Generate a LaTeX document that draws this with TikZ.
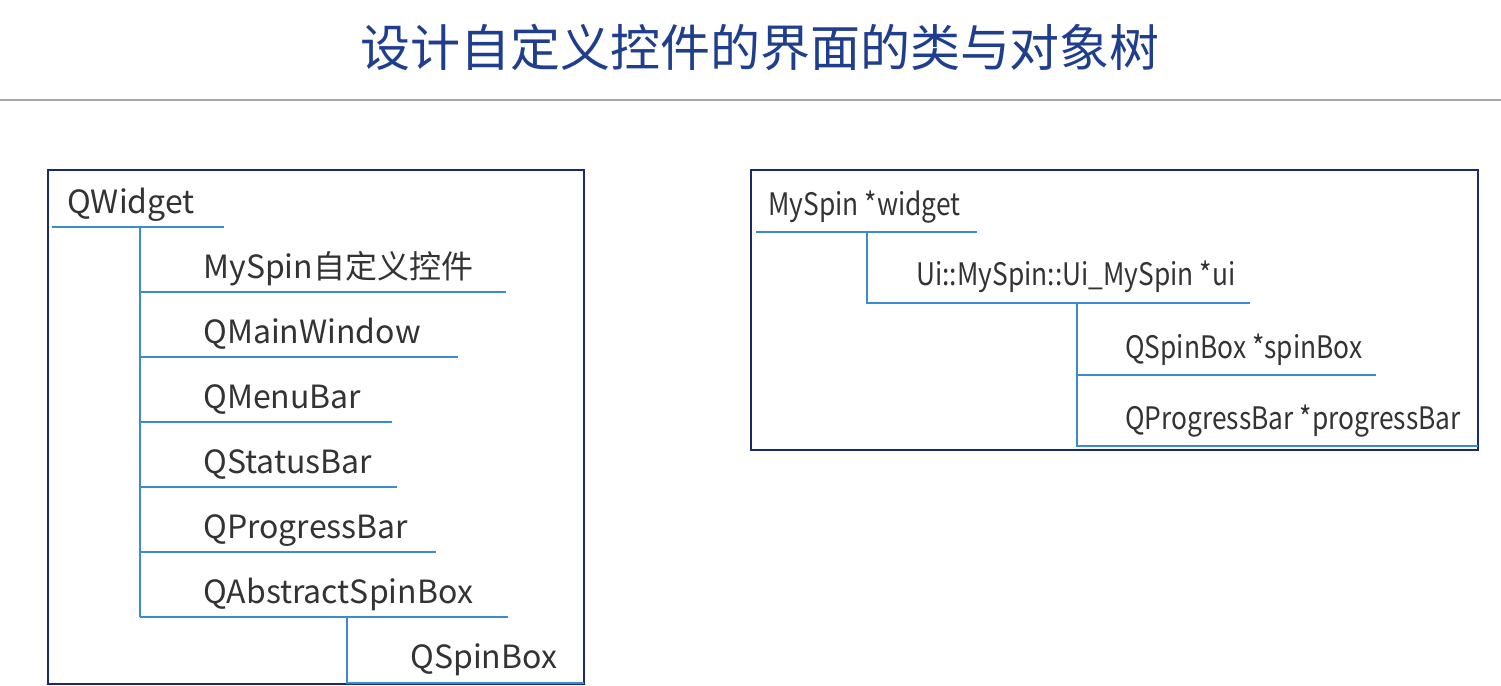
\documentclass[tikz,border=0pt]{standalone}
\usepackage{fontspec}
\setmainfont{Noto Sans CJK SC}
\definecolor{titleblue}{HTML}{1F3E8E}
\definecolor{navy}{HTML}{1A2A6C}
\definecolor{treeblue}{HTML}{3C8BD2}
\definecolor{txt}{HTML}{333333}
\begin{document}
\begin{tikzpicture}[x=0.5pt,y=-0.5pt,
  lbl/.style={anchor=base west,inner sep=0pt,font=\fontsize{16}{18}\selectfont,text=txt},
  nlbl/.style={anchor=base west,inner sep=0pt,font=\fontsize{15.5}{18}\selectfont,text=txt,xscale=0.85},
  tree/.style={treeblue,line width=1pt},
  frame/.style={navy,line width=1pt}]
\useasboundingbox (0,0) rectangle (1501,686);
\node[text=titleblue,font=\fontsize{25}{28}\selectfont] (title) at (760,47) {设计自定义控件的界面的类与对象树};
\draw[gray!70,line width=0.7pt] (0,100) -- (1501,100);
% left
\draw[frame] (48,170) rectangle (584,684);
\node[lbl] (w) at (67,213) {QWidget};
\draw[tree] (52,227) -- (224,227);
\draw[tree] (140,227) -- (140,617);
\foreach \y/\e/\t in {267/506/MySpin自定义控件,332/458/QMainWindow,397/392/QMenuBar,462/397/QStatusBar,527/436/QProgressBar,592/508/QAbstractSpinBox}{
  \node[lbl] at (203,\y+11) {\t};
  \draw[tree] (140,\y+25) -- (\e,\y+25);
}
\node[lbl] (sb) at (410,668) {QSpinBox};
\draw[tree] (347,617) -- (347,683) -- (584,683);
% right
\draw[frame] (751,170) rectangle (1478,450);
\node[nlbl] (mw) at (768,215) {MySpin *widget};
\draw[tree] (756,232) -- (977,232);
\draw[tree] (867,232) -- (867,303) -- (1250,303);
\node[nlbl] (ui) at (916,285) {Ui::MySpin::Ui\_MySpin *ui};
\draw[tree] (1077,303) -- (1077,446) -- (1478,446);
\draw[tree] (1077,375) -- (1376,375);
\node[nlbl] (s) at (1125,358) {QSpinBox *spinBox};
\node[nlbl] (p) at (1125,429) {QProgressBar *progressBar};
\end{tikzpicture}
\end{document}
